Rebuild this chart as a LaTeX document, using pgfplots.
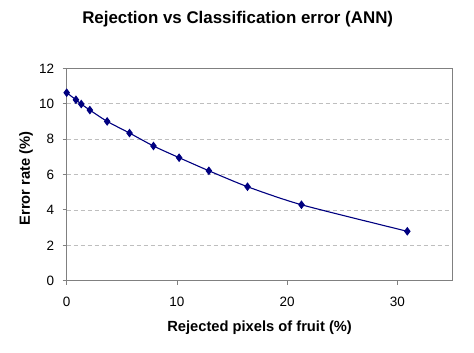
\documentclass[border=0pt]{standalone}
\usepackage{pgfplots}
\pgfplotsset{compat=1.18}
\usepackage{fontspec}
\setmainfont{Liberation Sans}
\definecolor{navyline}{RGB}{0,0,128}
\definecolor{bordergray}{RGB}{128,128,128}
\definecolor{gridgray}{RGB}{190,190,190}
\begin{document}
\begin{tikzpicture}
\path[use as bounding box] (-66.7pt,-72.3pt) rectangle (407.3pt,280.7pt);
\begin{axis}[
  at={(0,0)}, anchor=south west,
  scale only axis, width=385.8pt, height=212.4pt,
  xmin=0, xmax=35, ymin=0, ymax=12,
  xtick={0,10,20,30}, ytick={0,2,4,6,8,10,12},
  tick align=outside, tick pos=left,
  major tick length=4pt,
  every tick/.style={bordergray, line width=0.8pt},
  axis line style={bordergray, line width=1pt},
  ymajorgrids, grid style={gridgray, dashed, dash pattern=on 4pt off 3pt, line width=0.6pt},
  /pgf/number format/assume math mode=true,
  tick label style={font=\fontsize{13.5}{15}\selectfont, black},
  xticklabel style={yshift=-9pt},
  yticklabel style={xshift=-5pt},
  title={Rejection vs Classification error (ANN)},
  title style={font=\fontsize{16.9}{19}\selectfont\bfseries, at={(rel axis cs:0.5,1)}, anchor=base, yshift=38.3pt, xshift=-21.9pt},
  xlabel={Rejected pixels of fruit (\%)},
  xlabel style={font=\fontsize{14.7}{17}\selectfont\bfseries, at={(rel axis cs:0.5,0)}, anchor=base, yshift=-51.3pt},
  clip=false,
]
\addplot[navyline, line width=1.1pt, smooth, tension=0.4, mark=diamond*, mark size=3.5pt, mark options={fill=navyline, draw=navyline}] coordinates {
(0,10.62) (0.84,10.22) (1.32,9.98) (2.1,9.64) (3.67,9.0) (5.7,8.34) (7.87,7.61) (10.2,6.95) (12.9,6.21) (16.4,5.31) (21.3,4.29) (30.9,2.79)
};
\node[rotate=90, anchor=center, font=\fontsize{14.7}{17}\selectfont\bfseries] at ([xshift=-40.7pt,yshift=-4pt]rel axis cs:0,0.5) {Error rate (\%)};
\end{axis}
\end{tikzpicture}
\end{document}
